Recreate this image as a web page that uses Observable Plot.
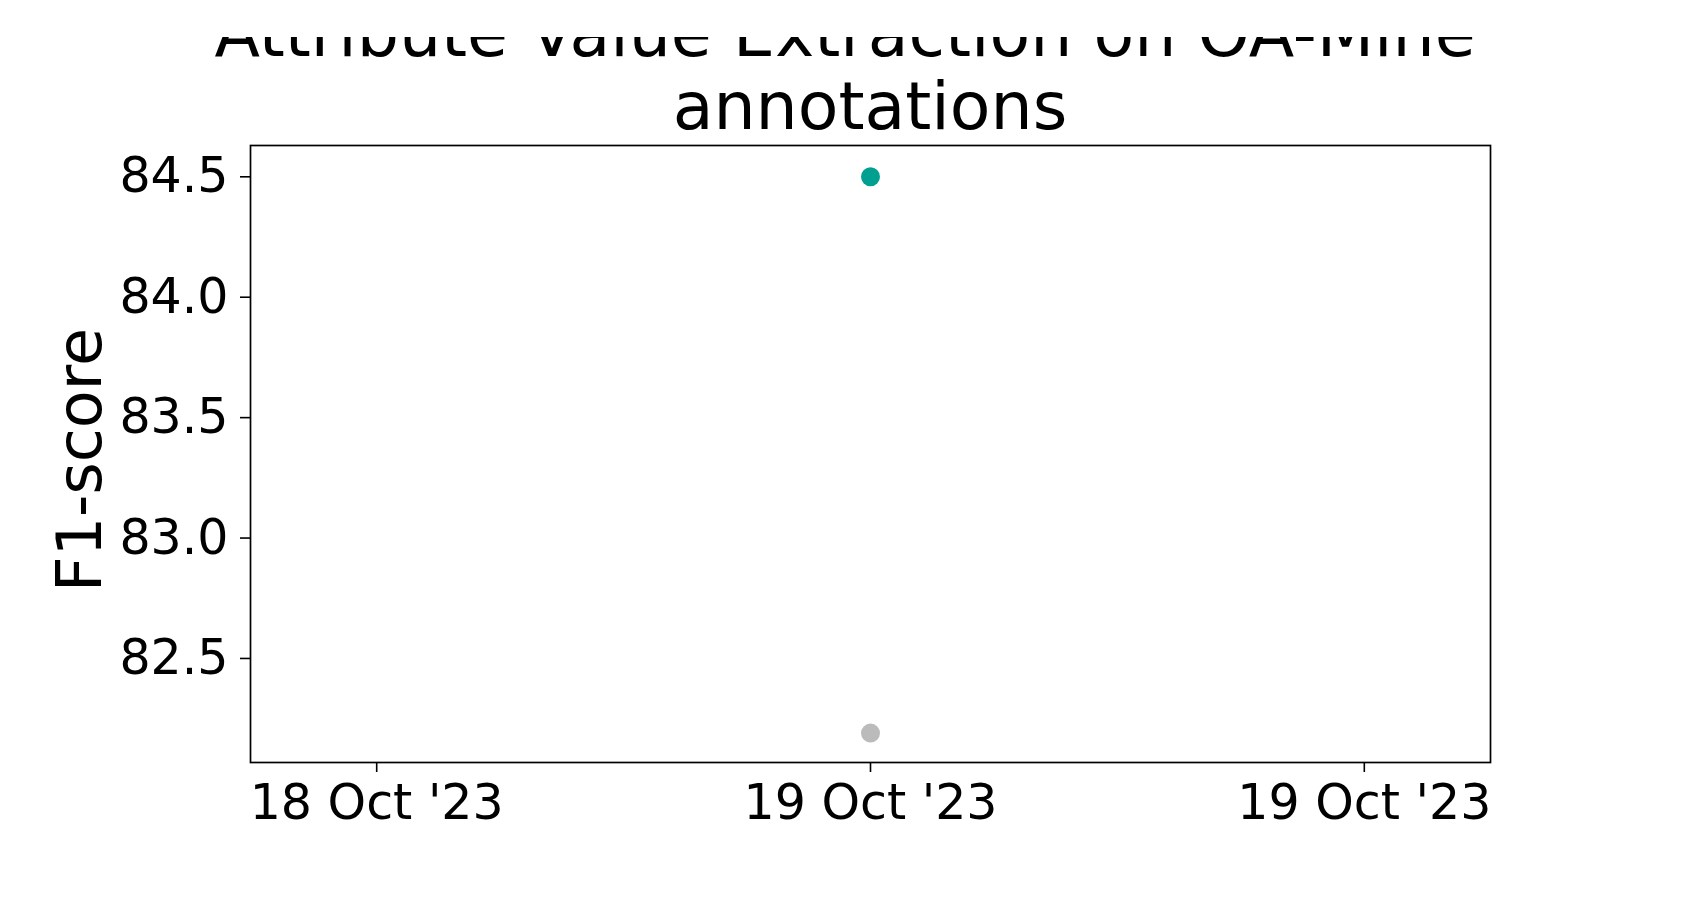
<!DOCTYPE html>
<html>
<head>
<meta charset="utf-8">
<script src="https://cdn.jsdelivr.net/npm/d3@7"></script>
<script src="https://cdn.jsdelivr.net/npm/@observablehq/plot@0.6"></script>
<style>
  html, body { margin: 0; padding: 0; background: #fff; }
  body { width: 1700px; height: 900px; overflow: hidden; font-family: "DejaVu Sans", sans-serif; }
  #title { position: relative; width: 1700px; height: 130px; font-size: 66.5px; line-height: 66px; color: #000; }
  #clip { position: absolute; top: 37px; left: 0; width: 1700px; height: 40px; overflow: hidden; }
  .tline { position: absolute; white-space: nowrap; transform: translateX(-50%); }
  #chart svg { display: block; }
</style>
</head>
<body>
<div id="title">
  <div id="clip"><div class="tline" id="t1" style="top:-37px;left:845px;"></div></div>
  <div class="tline" id="t2" style="top:73px;left:870px;"></div>
</div>
<div id="chart"></div>
<script>
// ---- data ----
const titleLines = ["Attribute Value Extraction on OA-Mine", "annotations"];
const models = ["State of the art", "Other models"];
const releaseDates = ["2023-10-19T00:00:00Z", "2023-10-19T00:00:00Z"];
const f1Scores = [84.5, 82.19];
const seriesColors = ["#00a090", "#bbbbbb"];
const xTickDates = ["2023-10-18T12:00:00Z", "2023-10-19T00:00:00Z", "2023-10-19T12:00:00Z"];
const xTickLabels = ["18 Oct '23", "19 Oct '23", "19 Oct '23"];
const yTicks = [82.5, 83.0, 83.5, 84.0, 84.5];
const yLabel = "F1-score";

document.getElementById("t1").textContent = titleLines[0];
document.getElementById("t2").textContent = titleLines[1];

const points = models.map((m, i) => ({model: m, date: new Date(releaseDates[i]), f1: f1Scores[i]}));
const xTicks = xTickDates.map(d => new Date(d));
const labelByTime = new Map(xTicks.map((d, i) => [+d, xTickLabels[i]]));

const chart = Plot.plot({
  width: 1700,
  height: 770,
  marginTop: 15,
  marginBottom: 138,
  marginLeft: 250,
  marginRight: 210,
  style: {fontFamily: "DejaVu Sans", fontSize: "49px", color: "#000", background: "#fff"},
  x: {type: "utc", domain: [new Date("2023-10-18T08:56:00Z"), new Date("2023-10-19T15:04:00Z")]},
  y: {domain: [82.068, 84.63]},
  color: {domain: models, range: seriesColors},
  marks: [
    Plot.frame({stroke: "#000", strokeWidth: 1.7}),
    Plot.axisX(xTicks, {tickSize: 10, tickPadding: 12, strokeWidth: 1.6, tickFormat: d => labelByTime.get(+d), label: null}),
    Plot.axisY(yTicks, {tickSize: 10, tickPadding: 12, strokeWidth: 1.6, tickFormat: d3.format(".1f"), label: null}),
    Plot.text([yLabel], {frameAnchor: "left", dx: -150, dy: 6, rotate: -90, lineAnchor: "bottom", textAnchor: "middle", fontSize: 62, fill: "#000"}),
    Plot.dot(points, {x: "date", y: "f1", fill: "model", r: 9.5, stroke: null})
  ]
});
document.getElementById("chart").appendChild(chart);
</script>
</body>
</html>
